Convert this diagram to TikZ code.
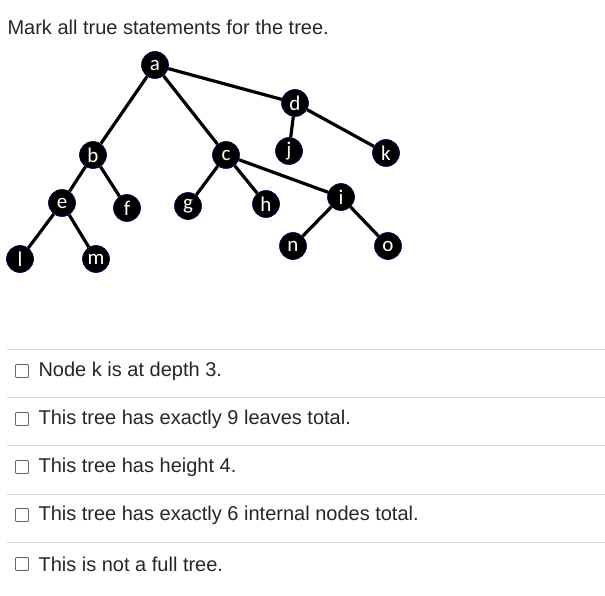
\documentclass[tikz,border=0pt]{standalone}
\usepackage{fontspec}
\setmainfont{Liberation Sans}
\newfontfamily\carl{Carlito}
\begin{document}
\begin{tikzpicture}[x=1pt,y=-1pt,
  tn/.style={circle,fill=black,draw=black!60!blue,line width=0.6pt,minimum size=27pt,inner sep=0pt,text=white,font=\carl\fontsize{21}{21}\selectfont},
  ed/.style={line width=3.2pt},
  opt/.style={anchor=west,font=\fontsize{20}{24}\selectfont,text=black!85},
  cb/.style={draw=black!60,line width=0.8pt,rounded corners=1pt,minimum size=13pt,inner sep=0pt},
  sep/.style={draw=black!15,line width=0.7pt}]
\useasboundingbox (0,0) rectangle (605,596);
\node[anchor=west,font=\fontsize{20}{24}\selectfont,text=black!85] (q) at (4,27) {Mark all true statements for the tree.};
\node[tn] (a) at (155,65) {a};
\node[tn] (d) at (295,103) {d};
\node[tn] (b) at (93,155) {b};
\node[tn] (c) at (226,155) {c};
\node[tn] (j) at (289,151) {j};
\node[tn] (k) at (386,153) {k};
\node[tn] (e) at (62,203) {e};
\node[tn] (f) at (127,208) {f};
\node[tn] (g) at (188,206) {g};
\node[tn] (h) at (266,204) {h};
\node[tn] (i) at (341,197) {i};
\node[tn] (l) at (20,259) {l};
\node[tn] (m) at (96,259) {m};
\node[tn] (n) at (293,246) {n};
\node[tn] (o) at (388,246) {o};
\foreach \u/\v in {a/b,a/c,a/d,d/j,d/k,b/e,b/f,c/g,c/h,c/i,e/l,e/m,i/n,i/o}
  \draw[ed] (\u) -- (\v);
\foreach \p/\y/\t in {1/371/{Node k is at depth 3.},2/419/{This tree has exactly 9 leaves total.},3/467/{This tree has height 4.},4/515/{This tree has exactly 6 internal nodes total.},5/564/{This is not a full tree.}}{
  \node[cb] (c\p) at (22,\y) {};
  \node[opt] (t\p) at (35,\y) {\t};
}
\foreach \y in {349,397,445,494,542}
  \draw[sep] (7,\y) coordinate (s\y) -- (605,\y) coordinate (e\y);
\end{tikzpicture}
\end{document}
